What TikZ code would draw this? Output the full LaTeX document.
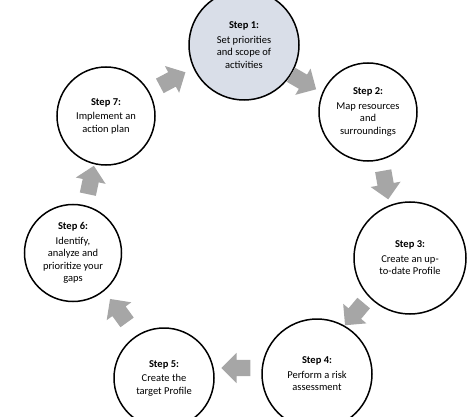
\documentclass[tikz,border=0pt]{standalone}
\usepackage{fontspec}
\setmainfont{Carlito}
\usetikzlibrary{shapes.arrows}
\definecolor{arrowgray}{HTML}{A6A6A6}
\definecolor{firstfill}{HTML}{D9DEE8}
\tikzset{
  stepc/.style={circle, draw=black, line width=1.5pt, fill=white, align=center,
    font=\fontsize{10.5}{12.5}\selectfont, inner sep=0pt},
  flowarrow/.style={single arrow, fill=arrowgray, draw=none, minimum height=29pt,
    inner xsep=0pt, inner ysep=8pt, text height=0pt, text depth=0pt,
    single arrow head extend=7pt, single arrow head indent=0pt}
}
\begin{document}
\begin{tikzpicture}[x=1pt,y=1pt]
\useasboundingbox (0,0) rectangle (474,-417);
\node[stepc, fill=firstfill, minimum size=110pt] (s1) at (244,-45) {\textbf{Step 1:}\\[2pt]Set priorities\\and scope of\\activities};
\node[stepc, minimum size=98pt] (s2) at (368,-112) {\textbf{Step 2:}\\[2pt]Map resources\\and\\surroundings};
\node[stepc, minimum size=112pt] (s3) at (410,-258) {\textbf{Step 3:}\\[2pt]Create an up-\\to-date Profile};
\node[stepc, minimum size=110pt] (s4) at (317,-374) {\textbf{Step 4:}\\[2pt]Perform a risk\\assessment};
\node[stepc, minimum size=100pt] (s5) at (164,-378) {\textbf{Step 5:}\\[2pt]Create the\\target Profile};
\node[stepc, minimum size=97pt] (s6) at (73,-253) {\textbf{Step 6:}\\[2pt]Identify,\\analyze and\\prioritize your\\gaps};
\node[stepc, minimum size=98pt] (s7) at (106,-116) {\textbf{Step 7:}\\[2pt]Implement an\\action plan};
\node[flowarrow, rotate=28] (a71) at (169,-81) {};
\node[flowarrow, rotate=-30] (a12) at (300,-80) {};
\node[flowarrow, rotate=-80] (a23) at (385,-181) {};
\node[flowarrow, rotate=-130] (a34) at (357,-311) {};
\node[flowarrow, rotate=180] (a45) at (240,-368) {};
\node[flowarrow, rotate=126] (a56) at (121,-314) {};
\node[flowarrow, rotate=78] (a67) at (90,-184) {};
\end{tikzpicture}
\end{document}
